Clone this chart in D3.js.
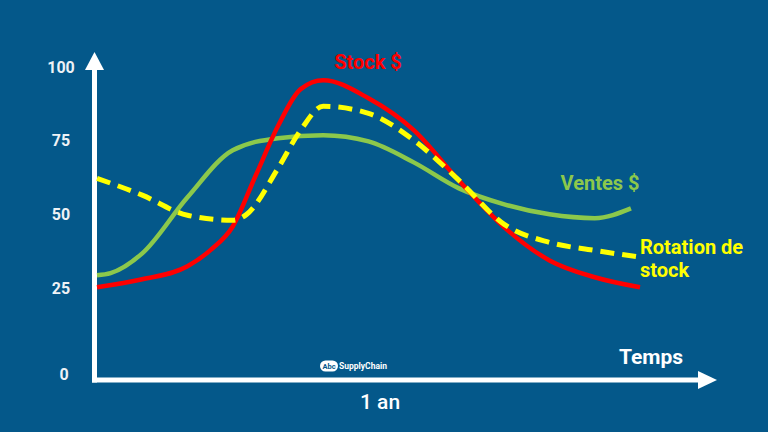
<!DOCTYPE html>
<html>
<head>
<meta charset="utf-8">
<script src="https://cdn.jsdelivr.net/npm/d3@7"></script>
<style>
  html, body { margin: 0; padding: 0; background: #04588a; }
  svg { display: block; font-family: Roboto, "Noto Sans", sans-serif; }
</style>
</head>
<body>
<svg id="chart" width="768" height="432"></svg>
<script>
// Data (months over one year, value 0-100)
const stockMonths = [0, 1, 2, 2.5, 3, 3.5, 4, 4.5, 5, 6, 7, 8, 9, 10, 11, 12];
const stockValues = [25.4, 28.1, 32.5, 37.9, 46, 63, 80, 92.5, 95.5, 89.4, 78.6, 61.5, 45.7, 34.5, 28.8, 25.4];
const ventesMonths = [0, 0.3, 1, 2, 3, 4, 5, 6, 7, 8, 9, 10, 11, 11.8];
const ventesValues = [29.5, 30.2, 36.9, 55.9, 71.8, 75.9, 76.9, 74.8, 67.7, 58.9, 53.5, 50.1, 48.8, 52.1];
const rotationMonths = [0, 1, 2, 3, 3.3, 4, 4.5, 5, 6, 7, 8, 9, 10, 11, 12];
const rotationValues = [62.3, 56.6, 49.8, 48.1, 50, 65.7, 78.6, 86.7, 84.3, 75.2, 61.6, 46.7, 40.6, 37.9, 35.6];
const yTicks = [25, 50, 75, 100];

const svg = d3.select("#chart");
const W = 768, H = 432;

svg.append("rect").attr("width", W).attr("height", H).attr("fill", "#04588a");

// Scales
const x = d3.scaleLinear().domain([0, 12]).range([97, 640]);
const y = d3.scaleLinear().domain([-6, 100]).range([380, 67]);

const axisX = 94.5, axisY = 380;

// Axes with arrows
svg.append("line")
  .attr("x1", axisX).attr("x2", axisX)
  .attr("y1", axisY + 2.5).attr("y2", 68)
  .attr("stroke", "#fff").attr("stroke-width", 5);
svg.append("path")
  .attr("d", `M${axisX - 9.5},70 L${axisX},52 L${axisX + 9.5},70 Z`)
  .attr("fill", "#fff");
svg.append("line")
  .attr("x1", axisX - 2.5).attr("x2", 700)
  .attr("y1", axisY).attr("y2", axisY)
  .attr("stroke", "#fff").attr("stroke-width", 5);
svg.append("path")
  .attr("d", `M698,${axisY - 9} L717,${axisY} L698,${axisY + 9} Z`)
  .attr("fill", "#fff");

// Y tick labels
const yAxis = d3.axisLeft(y).tickValues(yTicks).tickSize(0).tickPadding(0);
const gy = svg.append("g").attr("transform", "translate(61,0)").call(yAxis);
gy.select(".domain").remove();
gy.selectAll("text")
  .attr("text-anchor", "middle")
  .attr("fill", "#eef2f6")
  .style("font-size", "16px")
  .style("font-weight", "bold")
  .style("font-family", "Roboto, sans-serif");
svg.append("text")
  .attr("x", 64).attr("y", 375)
  .attr("dy", "0.32em")
  .attr("text-anchor", "middle")
  .attr("fill", "#eef2f6")
  .style("font-size", "16px")
  .style("font-weight", "bold")
  .text("0");

// Lines
const line = d3.line()
  .x(d => x(d[0]))
  .y(d => y(d[1]))
  .curve(d3.curveMonotoneX);

const ventes = ventesMonths.map((m, i) => [m, ventesValues[i]]);
const stock = stockMonths.map((m, i) => [m, stockValues[i]]);
const rotation = rotationMonths.map((m, i) => [m, rotationValues[i]]);

svg.append("path")
  .datum(ventes)
  .attr("d", line)
  .attr("fill", "none")
  .attr("stroke", "#8cc84b")
  .attr("stroke-width", 4.5);

svg.append("path")
  .datum(stock)
  .attr("d", line)
  .attr("fill", "none")
  .attr("stroke", "#ff0000")
  .attr("stroke-width", 4.5);

svg.append("path")
  .datum(rotation)
  .attr("d", line)
  .attr("fill", "none")
  .attr("stroke", "#ffff00")
  .attr("stroke-width", 5)
  .attr("stroke-dasharray", "14,8");

// Series labels
svg.append("text")
  .attr("x", 368).attr("y", 62).attr("dy", "0.35em")
  .attr("text-anchor", "middle")
  .attr("fill", "#ff0000")
  .style("font-size", "20px").style("font-weight", "bold")
  .text("Stock $");

svg.append("text")
  .attr("x", 600).attr("y", 183).attr("dy", "0.35em")
  .attr("text-anchor", "middle")
  .attr("fill", "#8cc84b")
  .style("font-size", "20px").style("font-weight", "bold")
  .text("Ventes $");

const rot = svg.append("text")
  .attr("fill", "#ffff00")
  .style("font-size", "20px").style("font-weight", "bold");
rot.append("tspan").attr("x", 640).attr("y", 254).text("Rotation de");
rot.append("tspan").attr("x", 640).attr("y", 277).text("stock");

// Axis titles
svg.append("text")
  .attr("x", 651).attr("y", 357).attr("dy", "0.35em")
  .attr("text-anchor", "middle")
  .attr("fill", "#fff")
  .style("font-size", "21px").style("font-weight", "bold")
  .text("Temps");

svg.append("text")
  .attr("x", 380).attr("y", 402).attr("dy", "0.35em")
  .attr("text-anchor", "middle")
  .attr("fill", "#fff")
  .style("font-size", "21px").style("font-weight", "500")
  .text("1 an");

// Small logo
const logo = svg.append("g").attr("transform", "translate(320,366)");
logo.append("rect")
  .attr("x", 0).attr("y", -5.5).attr("width", 18).attr("height", 11).attr("rx", 5.5)
  .attr("fill", "#fff");
logo.append("text")
  .attr("x", 9).attr("y", 0).attr("dy", "0.35em")
  .attr("text-anchor", "middle")
  .attr("fill", "#04588a")
  .style("font-size", "7.5px").style("font-weight", "bold")
  .text("Abc");
logo.append("text")
  .attr("x", 19).attr("y", 0).attr("dy", "0.35em")
  .attr("fill", "#fff")
  .style("font-size", "8.5px").style("font-weight", "bold")
  .text("SupplyChain");
</script>
</body>
</html>
